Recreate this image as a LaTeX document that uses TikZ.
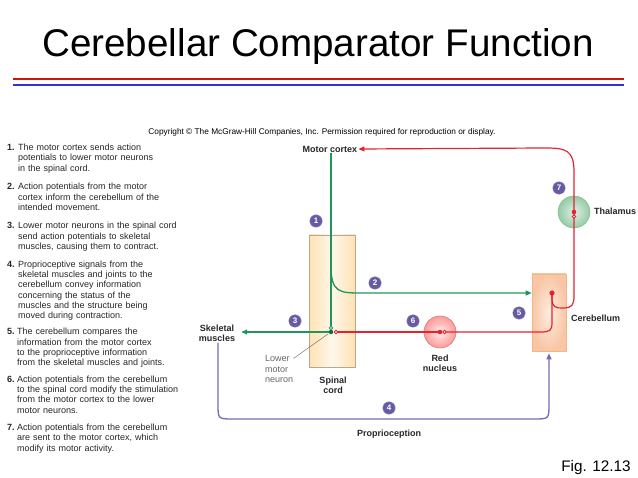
\documentclass[tikz,border=0pt]{standalone}
\usepackage{fontspec}
\setmainfont{Liberation Sans}
\usetikzlibrary{arrows.meta,positioning}

\definecolor{nervgreen}{RGB}{30,152,90}
\definecolor{nervred}{RGB}{226,36,48}
\definecolor{nervpurple}{RGB}{118,106,178}
\definecolor{numpurple}{RGB}{104,90,162}
\definecolor{barred}{RGB}{204,20,20}
\definecolor{barblue}{RGB}{50,50,210}
\definecolor{cerebout}{RGB}{248,198,166}
\definecolor{cerebin}{RGB}{254,236,224}
\definecolor{thalout}{RGB}{150,202,168}
\definecolor{thalin}{RGB}{222,240,228}

\tikzset{
  lbl/.style={font=\fontsize{9}{10.4}\selectfont\bfseries, text=black!85, inner sep=1pt, align=center},
  itemnum/.style={font=\fontsize{9}{10.3}\selectfont\bfseries, text=black!85, anchor=base west, inner sep=0pt},
  itemtxt/.style={font=\fontsize{9}{10.3}\selectfont, text=black!85, anchor=base west, inner sep=0pt, text width=180pt, align=left},
  stepnum/.style={circle, fill=numpurple, draw=numpurple!70, text=white, font=\fontsize{8}{8}\selectfont\bfseries, inner sep=0pt, minimum size=12.5pt},
  gline/.style={draw=nervgreen, line width=1.3pt},
  rline/.style={draw=nervred, line width=1.2pt},
  pline/.style={draw=nervpurple, line width=1.3pt},
  nucleus/.style={circle, minimum size=32pt, inner sep=0pt, line width=0.6pt}
}

\begin{document}
\begin{tikzpicture}[x=1pt, y=-1pt, >={Triangle[length=6pt,width=5pt]}]
    \useasboundingbox (0,0) rectangle (638,478);

    % Title and double rule
    \node[anchor=base, inner sep=0pt, font=\fontsize{38.6}{44}\selectfont] (title) at (318,57) {Cerebellar Comparator Function};
    \coordinate (barL) at (13,79);
    \coordinate (barR) at (624,79);
    \draw[barred, line width=2.6pt] (barL) -- (barR);
    \draw[barblue, line width=2.6pt] ([yshift=-6pt]barL) -- ([yshift=-6pt]barR);
    \node[inner sep=0pt, font=\fontsize{8.3}{9}\selectfont] (copy) at (322,132) {Copyright \textcopyright{} The McGraw-Hill Companies, Inc. Permission required for reproduction or display.};

    % Numbered steps (left column)
    \node[itemnum] (n1) at (7,150.6) {1.};
    \node[itemtxt] (t1) at (18,150.6) {The motor cortex sends action\\potentials to lower motor neurons\\in the spinal cord.};
    \node[itemnum] (n2) at (7,190) {2.};
    \node[itemtxt] (t2) at (18,190) {Action potentials from the motor\\cortex inform the cerebellum of the\\intended movement.};
    \node[itemnum] (n3) at (7,229) {3.};
    \node[itemtxt] (t3) at (18,229) {Lower motor neurons in the spinal cord\\send action potentials to skeletal\\muscles, causing them to contract.};
    \node[itemnum] (n4) at (7,267.3) {4.};
    \node[itemtxt] (t4) at (18,267.3) {Proprioceptive signals from the\\skeletal muscles and joints to the\\cerebellum convey information\\concerning the status of the\\muscles and the structure being\\moved during contraction.};
    \node[itemnum] (n5) at (7,335) {5.};
    \node[itemtxt] (t5) at (17,335) {The cerebellum compares the\\information from the motor cortex\\to the proprioceptive information\\from the skeletal muscles and joints.};
    \node[itemnum] (n6) at (7,382.3) {6.};
    \node[itemtxt] (t6) at (17,382.3) {Action potentials from the cerebellum\\to the spinal cord modify the stimulation\\from the motor cortex to the lower\\motor neurons.};
    \node[itemnum] (n7) at (7,430.6) {7.};
    \node[itemtxt] (t7) at (17,430.6) {Action potentials from the cerebellum\\are sent to the motor cortex, which\\modify its motor activity.};

    % Structures
    \node[draw=brown!45!gray!70, line width=0.6pt, left color=yellow!25!orange!30, right color=yellow!25!orange!30, middle color=yellow!15!orange!8,
          minimum width=46pt, minimum height=132pt, inner sep=0pt] (scord) at (332,301) {};
    \node[draw=brown!40!orange!55, line width=0.6pt, inner color=cerebin, outer color=cerebout,
          minimum width=34pt, minimum height=77pt, inner sep=0pt] (cbox) at (549,312.5) {};
    \node[nucleus, draw=green!30!gray!70, inner color=thalin, outer color=thalout] (thal) at (574,212) {};
    \node[nucleus, draw=red!40!gray!70, inner color=red!8, outer color=red!40] (rnuc) at (440,332) {};

    % Labels
    \node[lbl] (mctx) at (330,149) {Motor cortex};
    \node[lbl] (skel) at (217,333) {Skeletal\\muscles};
    \node[lbl] (sclbl) at (333,385) {Spinal\\cord};
    \node[lbl] (rnlbl) at (440,363.5) {Red\\nucleus};
    \node[lbl, anchor=west] (thlbl) at (593,211) {Thalamus};
    \node[lbl, anchor=west] (cblbl) at (570,318) {Cerebellum};
    \node[lbl] (prop) at (389,434) {Proprioception};
    \node[font=\fontsize{9}{10.4}\selectfont, text=black!60, align=left, anchor=north west, inner sep=0pt] (lmn) at (265,355.5) {Lower\\motor\\neuron};
    \node[inner sep=0pt, font=\fontsize{15.3}{17}\selectfont, anchor=base] (fig) at (596,472) {Fig. 12.13};

    % Key points on the pathways
    \coordinate (lmnd) at (331,332);
    \coordinate (gbr) at (331,266);
    \coordinate (cdot) at (552,293);
    \coordinate (sterm) at (336,332);

    % Step markers
    \node[stepnum] (c1) at (316,221) {1};
    \node[stepnum] (c2) at (375,283) {2};
    \node[stepnum] (c3) at (295,321) {3};
    \node[stepnum] (c4) at (389,408) {4};
    \node[stepnum] (c5) at (519,313) {5};
    \node[stepnum] (c6) at (413,321) {6};
    \node[stepnum] (c7) at (559,188) {7};

    % Green: motor cortex -> lower motor neuron, branch to cerebellum, out to muscles
    \draw[gline] (mctx.south -| lmnd) -- ([yshift=5.5pt]lmnd);
    \draw[gline, ->] (gbr) .. controls (331,293) and (340,293) .. (362,293) -- (cbox.west |- 0,293);
    \draw[gline, ->] (lmnd) -- ([xshift=5pt]skel.east |- lmnd);
    \draw[nervgreen, line width=0.8pt, fill=white] ([yshift=4pt]lmnd) circle (1.8pt);
    \fill[nervgreen!70!black] (lmnd) circle (2.2pt);
    \draw[black!55, line width=0.5pt] ([xshift=0pt,yshift=-3pt]lmn.north east) -- ([xshift=-3pt,yshift=-2pt]lmnd);

    % Red: cerebellum -> thalamus -> motor cortex
    \draw[rline, ->] (cdot) -- (552,298) .. controls (552,308) and (556,308) .. (563,308)
        .. controls (572,308) and (574,305) .. (574,296) -- (thal.center) -- (574,172)
        .. controls (574,150) and (566,148) .. (545,148) -- (mctx.east);
    % Red: cerebellum -> red nucleus -> spinal cord
    \draw[rline] (cdot) -- (552,322) .. controls (552,331) and (550,332) .. (540,332) -- ([xshift=3pt]rnuc.center);
    \draw[rline] (rnuc.center) -- (sterm);
    \fill[nervred] (cdot) circle (2.6pt);
    \fill[nervred] (rnuc.center) circle (2.3pt);
    \draw[nervred, line width=0.8pt, fill=white] ([xshift=4.5pt]rnuc.center) circle (1.8pt);
    \fill[nervred] (thal.center) circle (2.3pt);
    \draw[nervred, line width=0.8pt, fill=white] ([yshift=-4.5pt]thal.center) circle (1.8pt);
    \draw[nervred, line width=0.8pt, fill=white] (sterm) circle (1.8pt);

    % Purple: proprioception from muscles to cerebellum
    \draw[pline, ->] (skel.south -| 218,0) -- (218,404) .. controls (218,419) .. (233,419)
        -- (534,419) .. controls (549,419) .. (549,404) -- ([yshift=-2pt]cbox.south);
\end{tikzpicture}
\end{document}
